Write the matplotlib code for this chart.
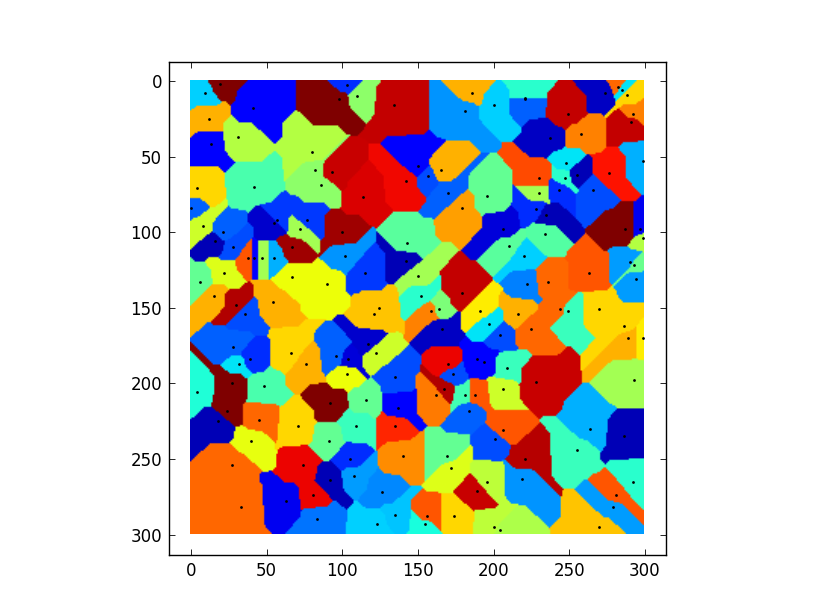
import numpy as np
import matplotlib
matplotlib.use('Agg')
import matplotlib.pyplot as plt

# Seed positions and cell colour (0-1 on jet)
seed_x = [8.6, 19.4, 41.4, 12.3, 31.3, 13.4, 80.4, 81.5, 86.3, 98, 103.3, 110.4, 134.1, 93.4, 114.3, 142.3,
          150, 3.5, 42.3, 0.4, 7.5, 21.4, 16.5, 28.4, 54.6, 56.6, 77.1, 72.2, 100, 67.2, 38.5, 41.6,
          47.4, 55.3, 22.5, 6.4, 15.4, 30.2, 54.4, 67.4, 90.3, 102.2, 115.2, 143.2, 142.3, 150.2, 152.2, 124.2, 121.1,
          186.1, 181.3, 200.2, 221.1, 221.1, 249.1, 274.2, 281.9, 285, 288.1, 291.8, 291, 257.9, 237, 298.9,
          248, 255.3, 276, 247.1, 230.2, 243.2, 266.1, 230.2, 165.2, 157.3, 170.3, 196, 179.1, 228.2, 235,
          205.7, 234.1, 287.2, 297.2, 298.9, 210.1, 220, 179.1, 263, 236.1, 222, 290, 292.9, 293.8, 159,
          164.1, 191.2, 216.1, 244, 249.1, 270,
          166.5, 197.1, 204.2, 225.1, 286.1, 289, 298.9, 189.2, 194.3, 170.3, 209.2, 173.3, 293, 228, 206.2,
          167.2, 181.3, 162.3, 188.1, 184.4, 206.2, 263.9, 201.1, 286.1, 255.3, 169.2, 172.2, 221.1, 219.2,
          196, 292.1, 189.2, 281, 279, 156.2, 174.2, 155.3, 270, 200.2, 204.2,
          36.3, 28.4, 39.4, 32.4, 66.3, 76.4, 96.5, 104.2, 117.2, 122.2, 103.3, 135.2, 3.5, 26.7, 48.5, 24.2,
          91.6, 116.3, 137, 18.1, 45.4, 71.4, 109.3, 135.2, 40.3, 91.4, 140.1, 105.3, 27.3, 74.2, 108.4,
          92.3, 126.2, 81.3, 63.2, 33.3, 135.2, 83.3, 123.3]
seed_y = [7.9, 1.8, 17.6, 24.7, 36.8, 41.6, 46.7, 58.8, 68.7, 11.9, 2.6, 9.7, 15.6, 59.7, 76.9, 65.6,
          55.5, 70.7, 69.6, 83.7, 95.6, 99.6, 105.7, 109.7, 94.5, 92.5, 92.5, 97.8, 99.6, 109.7, 117.4, 117.4,
          117.4, 117.4, 126.7, 132.6, 141.6, 147.6, 145.6, 129.5, 133.7, 116.5, 126.7, 106.6, 119.4, 128.6, 142.5, 149.8, 153.5,
          7.9, 19.6, 15.6, 10.8, 12.2, 21.6, 7.9, 3.7, 5.7, 8.8, 21.6, 26.7, 34.6, 37.7, 52.6,
          53.7, 61.5, 60.6, 64.5, 63.7, 71.6, 71.6, 73.6, 58.6, 62.6, 73.6, 75.6, 83.7, 84.6, 89.2,
          97.6, 100.7, 97.6, 97.6, 103.5, 108.6, 116.5, 140.5, 126.7, 132.6, 133.5, 120.5, 121.6, 130.6, 152.4,
          150.7, 152.4, 153.5, 150.7, 151.5, 150.7,
          164.5, 160.6, 168.5, 164.5, 161.7, 170.5, 170.5, 184.4, 186.3, 187.4, 190.5, 194.5, 197.6, 199.3, 203.5,
          203.5, 207.5, 208.4, 208.4, 217.6, 230.6, 229.5, 237.4, 235.2, 244.5, 247.6, 256.4, 250.4, 263.4,
          265.4, 265.4, 271.4, 273.6, 282.4, 288.3, 288.3, 293.4, 295.4, 295.4, 297.4,
          153.5, 175.6, 184.4, 186.6, 179.5, 186.6, 181.5, 184.4, 173.6, 179.5, 193.6, 196.5, 205.5, 200.4, 201.5, 217.6,
          213.4, 210.6, 216.5, 224.7, 223.6, 228.4, 227.5, 228.4, 238.5, 238.5, 247.6, 250.4, 254.4, 254.4, 261.4,
          264.5, 272.4, 274.4, 278.4, 282.4, 287.2, 290.3, 293.4]
seed_val = [.33, 1.0, .12, .72, .57, .12, .57, .52, .52, 1.0, .17, .52, .94, .935, .92, .90,
            .12, .68, .44, .22, .6, .22, .05, .2, .07, .18, .18, .55, .97, .97, .82, .12,
            .55, .3, .62, .47, .72, .955, .72, .64, .64, .27, .18, .46, .05, .55, .4, .7, .7,
            .72, .27, .33, .4, .22, .94, .06, .8, .35, .68, .77, .94, .77, .06, .3,
            .35, .05, .89, .4, .83, .17, .2, .55, .72, .2, .22, .47, .74, .17, .05,
            .08, .45, 1.0, .1, .57, .46, .33, .94, .82, .8, .25, .28, .48, .28, .77,
            .5, .66, .72, .8, .42, .68,
            .06, .35, .2, .8, .68, .72, .66, .12, .12, .905, .42, .2, .55, .935, .6,
            .955, .43, .78, .82, .22, .82, .3, .2, .05, .42, .47, .62, .95, .27,
            .58, .4, .935, .82, .28, .82, .68, .38, .7, .58, .56,
            .2, .22, .17, .35, .68, .72, .22, .08, .07, .6, .64, .2, .39, 1.0, .44, 1.0,
            1.0, .47, .12, .05, .8, .68, .42, .87, .63, .47, .76, .17, .8, .905, .28,
            .05, .26, .905, .1, .8, .32, .24, .33]
xticks = [0, 50, 100, 150, 200, 250, 300]
yticks = [0, 50, 100, 150, 200, 250, 300]

seed_x = np.round(seed_x)
seed_y = np.round(seed_y)
seed_val = np.array(seed_val)

# Colour every pixel with its nearest seed. Chessboard distance, ties broken
# by the smaller of the two offsets (gives the long vertical strips)
yy, xx = np.mgrid[0:300, 0:300]
dx = np.abs(xx[..., None] - seed_x)
dy = np.abs(yy[..., None] - seed_y)
dist = np.maximum(dx, dy) + 0.001 * np.minimum(dx, dy)
cells = seed_val[dist.argmin(axis=2)]

fig = plt.figure(figsize=(8.15, 6.15), dpi=100)
ax = fig.add_axes([169 / 815, 1 - 555 / 615, 497 / 815, 493 / 615])
ax.imshow(cells, cmap='jet', vmin=0, vmax=1, interpolation='bilinear', aspect='auto')
ax.scatter(seed_x, seed_y, s=4, c='k', linewidths=0)

ax.set_xlim(-14.5, 314)
ax.set_ylim(313.5, -12.5)
ax.set_xticks(xticks)
ax.set_yticks(yticks)
ax.tick_params(direction='in', top=True, right=True, labelsize=12, length=4, width=0.6, pad=5)
for spine in ax.spines.values():
    spine.set_linewidth(1.0)

fig.savefig('out.png', dpi=100)
